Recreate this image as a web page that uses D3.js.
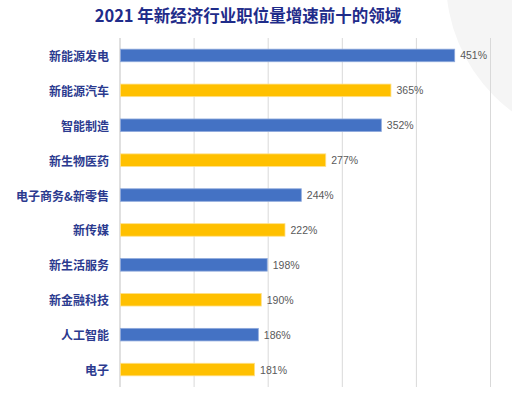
<!DOCTYPE html>
<html>
<head>
<meta charset="utf-8">
<script src="https://cdn.jsdelivr.net/npm/d3@7"></script>
<style>
  body { margin: 0; background: #fff; }
  svg { display: block; }
</style>
</head>
<body>
<div id="chart"></div>
<script>
// data
const categories = ["新能源发电", "新能源汽车", "智能制造", "新生物医药", "电子商务&新零售",
                    "新传媒", "新生活服务", "新金融科技", "人工智能", "电子"];
const growth = [451, 365, 352, 277, 244, 222, 198, 190, 186, 181];
const gridTicks = [0, 100, 200, 300, 400, 500];
const titleText = "2021 年新经济行业职位量增速前十的领域";

const width = 512, height = 396;
const barColors = ["#4472C4", "#FFC000"];
const barEdges = ["#8FAADC", "#FFE08A"];

const svg = d3.select("#chart")
  .append("svg")
  .attr("width", width)
  .attr("height", height);

// faint background disc in the top right corner
svg.append("circle")
  .attr("cx", 610)
  .attr("cy", -20)
  .attr("r", 164)
  .attr("fill", "#f5f5f5");

const x = d3.scaleLinear().domain([0, 500]).range([120, 490.5]);
const y = d3.scaleBand().domain(categories).range([38, 387]).paddingInner(0.64).paddingOuter(0.32);

// vertical grid
svg.append("g")
  .selectAll("line")
  .data(gridTicks)
  .join("line")
  .attr("x1", d => x(d))
  .attr("x2", d => x(d))
  .attr("y1", 38)
  .attr("y2", 387)
  .attr("stroke", "#d9d9d9")
  .attr("stroke-width", d => d === 0 ? 1.6 : 1);

// bars
svg.append("g")
  .selectAll("rect")
  .data(growth)
  .join("rect")
  .attr("x", x(0) + 0.5)
  .attr("y", (d, i) => y(categories[i]))
  .attr("width", d => x(d) - x(0))
  .attr("height", y.bandwidth())
  .attr("fill", (d, i) => barColors[i % 2])
  .attr("stroke", (d, i) => barEdges[i % 2])
  .attr("stroke-width", 0.8);

// value labels
svg.append("g")
  .selectAll("text")
  .data(growth)
  .join("text")
  .attr("x", d => x(d) + 6)
  .attr("y", (d, i) => y(categories[i]) + y.bandwidth() / 2)
  .attr("dominant-baseline", "central")
  .attr("font-family", "Liberation Sans, Arial, sans-serif")
  .attr("font-size", "10.5px")
  .attr("fill", "#595959")
  .text(d => d + "%");

// category labels
svg.append("g")
  .selectAll("text")
  .data(categories)
  .join("text")
  .attr("x", 109)
  .attr("y", d => y(d) + y.bandwidth() / 2)
  .attr("text-anchor", "end")
  .attr("dominant-baseline", "central")
  .attr("font-family", "Noto Sans CJK SC, sans-serif")
  .attr("font-size", "12px")
  .attr("font-weight", "bold")
  .attr("fill", "#2B3A8F")
  .text(d => d);

// title
svg.append("text")
  .attr("x", 248)
  .attr("y", 15)
  .attr("text-anchor", "middle")
  .attr("dominant-baseline", "central")
  .attr("font-family", "Noto Sans CJK SC, sans-serif")
  .attr("font-size", "16.5px")
  .attr("font-weight", "bold")
  .attr("fill", "#1F2C8A")
  .text(titleText);
</script>
</body>
</html>
